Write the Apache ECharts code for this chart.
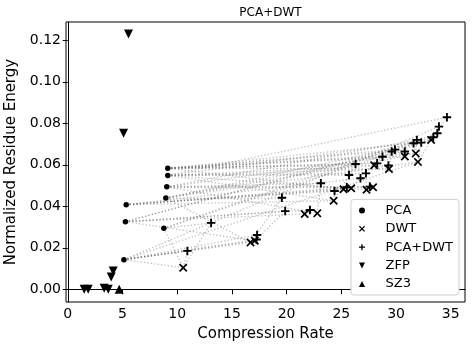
<!DOCTYPE html>
<html>
<head>
<meta charset="utf-8">
<script src="https://cdn.jsdelivr.net/npm/echarts@6/dist/echarts.min.js"></script>
<style>
  html, body { margin: 0; padding: 0; background: #fff; }
  #chart { width: 474px; height: 345px; }
</style>
</head>
<body>
<div id="chart"></div>
<script>
// [compression rate, normalized residue energy]
const pcaPoints = [
  [9.14, 0.0583], [9.14, 0.0549], [9.05, 0.0494], [8.96, 0.0440],
  [5.34, 0.0408], [5.27, 0.0326], [8.78, 0.0294], [5.13, 0.0143]
];
const dwtPoints = [
  [10.55, 0.0104], [16.7, 0.0226], [17.1, 0.0234], [21.65, 0.0363],
  [22.8, 0.0366], [24.3, 0.0427], [25.2, 0.0482], [25.9, 0.0487],
  [27.3, 0.0480], [28.0, 0.0598], [29.35, 0.0580], [30.8, 0.0640],
  [31.8, 0.0655], [32.0, 0.0614], [33.2, 0.0720], [27.9, 0.0492]
];
const pcaDwtPoints = [
  [10.93, 0.0185], [13.1, 0.0320], [17.25, 0.0240], [17.3, 0.0262],
  [19.57, 0.0441], [19.87, 0.0377], [22.13, 0.0382], [23.13, 0.0511],
  [24.38, 0.0474], [25.5, 0.0492], [25.7, 0.0551], [26.3, 0.0604],
  [26.75, 0.0535], [27.25, 0.0559], [27.6, 0.0495], [28.27, 0.0607],
  [28.76, 0.0639], [29.3, 0.0597], [29.6, 0.0664], [29.9, 0.0673],
  [30.8, 0.0664], [31.6, 0.0704], [31.9, 0.0720], [32.3, 0.0707],
  [33.4, 0.0733], [33.77, 0.0752], [33.92, 0.0784], [34.65, 0.0829]
];
const zfpPoints = [
  [1.5, 0.0], [1.87, 0.0], [3.33, 0.0005], [3.7, 0.0],
  [3.97, 0.0059], [4.15, 0.0088], [5.1, 0.0752], [5.55, 0.123]
];
const sz3Points = [
  [4.7, 0.0]
];
// each combined run: [index in pcaDwtPoints, index in pcaPoints, index in dwtPoints]
const runLinks = [
  [0, 7, 0], [1, 6, 0], [2, 7, 1], [3, 7, 2], [4, 3, 1], [5, 5, 2],
  [6, 5, 3], [7, 2, 4], [8, 4, 5], [9, 4, 6], [10, 1, 5], [11, 0, 6],
  [12, 4, 7], [13, 1, 8], [14, 2, 15], [15, 0, 9], [16, 0, 9], [17, 1, 10],
  [18, 0, 10], [19, 0, 11], [20, 3, 11], [21, 0, 12], [22, 2, 12], [23, 3, 13],
  [24, 5, 14], [25, 6, 14], [26, 7, 13], [27, 1, 14]
];
const xTicks = [0, 5, 10, 15, 20, 25, 30, 35];
const yTicks = [0.00, 0.02, 0.04, 0.06, 0.08, 0.10, 0.12];

// dotted segments: combined run to its PCA and DWT parts, and PCA to DWT
const segments = [];
const seen = new Set();
function addSeg(a, b, key) {
  if (seen.has(key)) return;
  seen.add(key);
  segments.push({ coords: [a, b] });
}
runLinks.forEach(([c, p, d]) => {
  addSeg(pcaPoints[p], pcaDwtPoints[c], 'pc' + p + '_' + c);
  addSeg(dwtPoints[d], pcaDwtPoints[c], 'dc' + d + '_' + c);
  addSeg(pcaPoints[p], dwtPoints[d], 'pd' + p + '_' + d);
});

const FONT = 'DejaVu Sans';
const plusPath = 'path://M3.9,0H6.1V3.9H10V6.1H6.1V10H3.9V6.1H0V3.9H3.9Z';
const crossPath = 'path://M1.4,0L5,3.6L8.6,0L10,1.4L6.4,5L10,8.6L8.6,10L5,6.4L1.4,10L0,8.6L3.6,5L0,1.4Z';
const downTri = 'path://M0,0H10L5,10Z';
const upTri = 'path://M5,0L10,10H0Z';

const chart = echarts.init(document.getElementById('chart'), null, { renderer: 'canvas' });
chart.setOption({
  animation: false,
  backgroundColor: '#fff',
  textStyle: { fontFamily: FONT },
  title: {
    text: 'PCA+DWT',
    left: 265.5,
    textAlign: 'center',
    top: 2,
    textStyle: { fontFamily: FONT, fontSize: 12, fontWeight: 'normal', color: '#000' }
  },
  grid: {
    left: 66, right: 9, top: 22, bottom: 43,
    containLabel: false,
    outerBoundsMode: 'none',
    show: true, borderColor: '#000', borderWidth: 1, backgroundColor: 'transparent'
  },
  xAxis: {
    type: 'value',
    min: -0.16, max: 36.3,
    name: 'Compression Rate',
    nameLocation: 'middle',
    nameGap: 25,
    nameTextStyle: { fontFamily: FONT, fontSize: 15, color: '#000' },
    axisLine: { show: true, lineStyle: { color: '#000', width: 1 } },
    axisTick: { show: true, inside: false, length: 5, customValues: xTicks, lineStyle: { color: '#000' } },
    axisLabel: { customValues: xTicks, fontFamily: FONT, fontSize: 14, color: '#000', margin: 5,
      formatter: v => String(v) },
    splitLine: { show: false }
  },
  yAxis: {
    type: 'value',
    min: -0.0061, max: 0.1288,
    name: 'Normalized Residue Energy',
    nameLocation: 'middle',
    nameGap: 45,
    nameTextStyle: { fontFamily: FONT, fontSize: 15, color: '#000' },
    axisLine: { show: true, lineStyle: { color: '#000', width: 1 } },
    axisTick: { show: true, inside: false, length: 5, customValues: yTicks, lineStyle: { color: '#000' } },
    axisLabel: { customValues: yTicks, fontFamily: FONT, fontSize: 14, color: '#000', margin: 5,
      formatter: v => v.toFixed(2) },
    splitLine: { show: false }
  },
  legend: {
    orient: 'vertical',
    right: 15,
    bottom: 50,
    data: ['PCA', 'DWT', 'PCA+DWT', 'ZFP', 'SZ3'],
    backgroundColor: '#fff',
    borderColor: '#d0d0d0',
    borderWidth: 1,
    borderRadius: 3,
    padding: [4, 6, 4, 8],
    itemGap: 4.4,
    itemWidth: 17,
    itemHeight: 6,
    textStyle: { fontFamily: FONT, fontSize: 13, color: '#000', lineHeight: 14, padding: [0, 0, 0, 10] }
  },
  series: [
    {
      type: 'lines',
      coordinateSystem: 'cartesian2d',
      silent: true,
      z: 1,
      lineStyle: { color: '#707070', opacity: 0.45, width: 1.3, type: [1.3, 2.1] },
      data: segments
    },
    {
      name: 'PCA', type: 'scatter', z: 5, symbol: 'circle', symbolSize: 5.5,
      itemStyle: { color: '#000', opacity: 1 }, data: pcaPoints
    },
    {
      name: 'DWT', type: 'scatter', z: 5, symbol: crossPath, symbolSize: 8.5,
      itemStyle: { color: '#000', opacity: 1 }, data: dwtPoints
    },
    {
      name: 'PCA+DWT', type: 'scatter', z: 5, symbol: plusPath, symbolSize: 8.5,
      itemStyle: { color: '#000', opacity: 1 }, data: pcaDwtPoints
    },
    {
      name: 'ZFP', type: 'scatter', z: 5, symbol: downTri, symbolSize: 9,
      itemStyle: { color: '#000', opacity: 1 }, data: zfpPoints
    },
    {
      name: 'SZ3', type: 'scatter', z: 5, symbol: upTri, symbolSize: 9,
      itemStyle: { color: '#000', opacity: 1 }, data: sz3Points
    }
  ]
});
</script>
</body>
</html>
